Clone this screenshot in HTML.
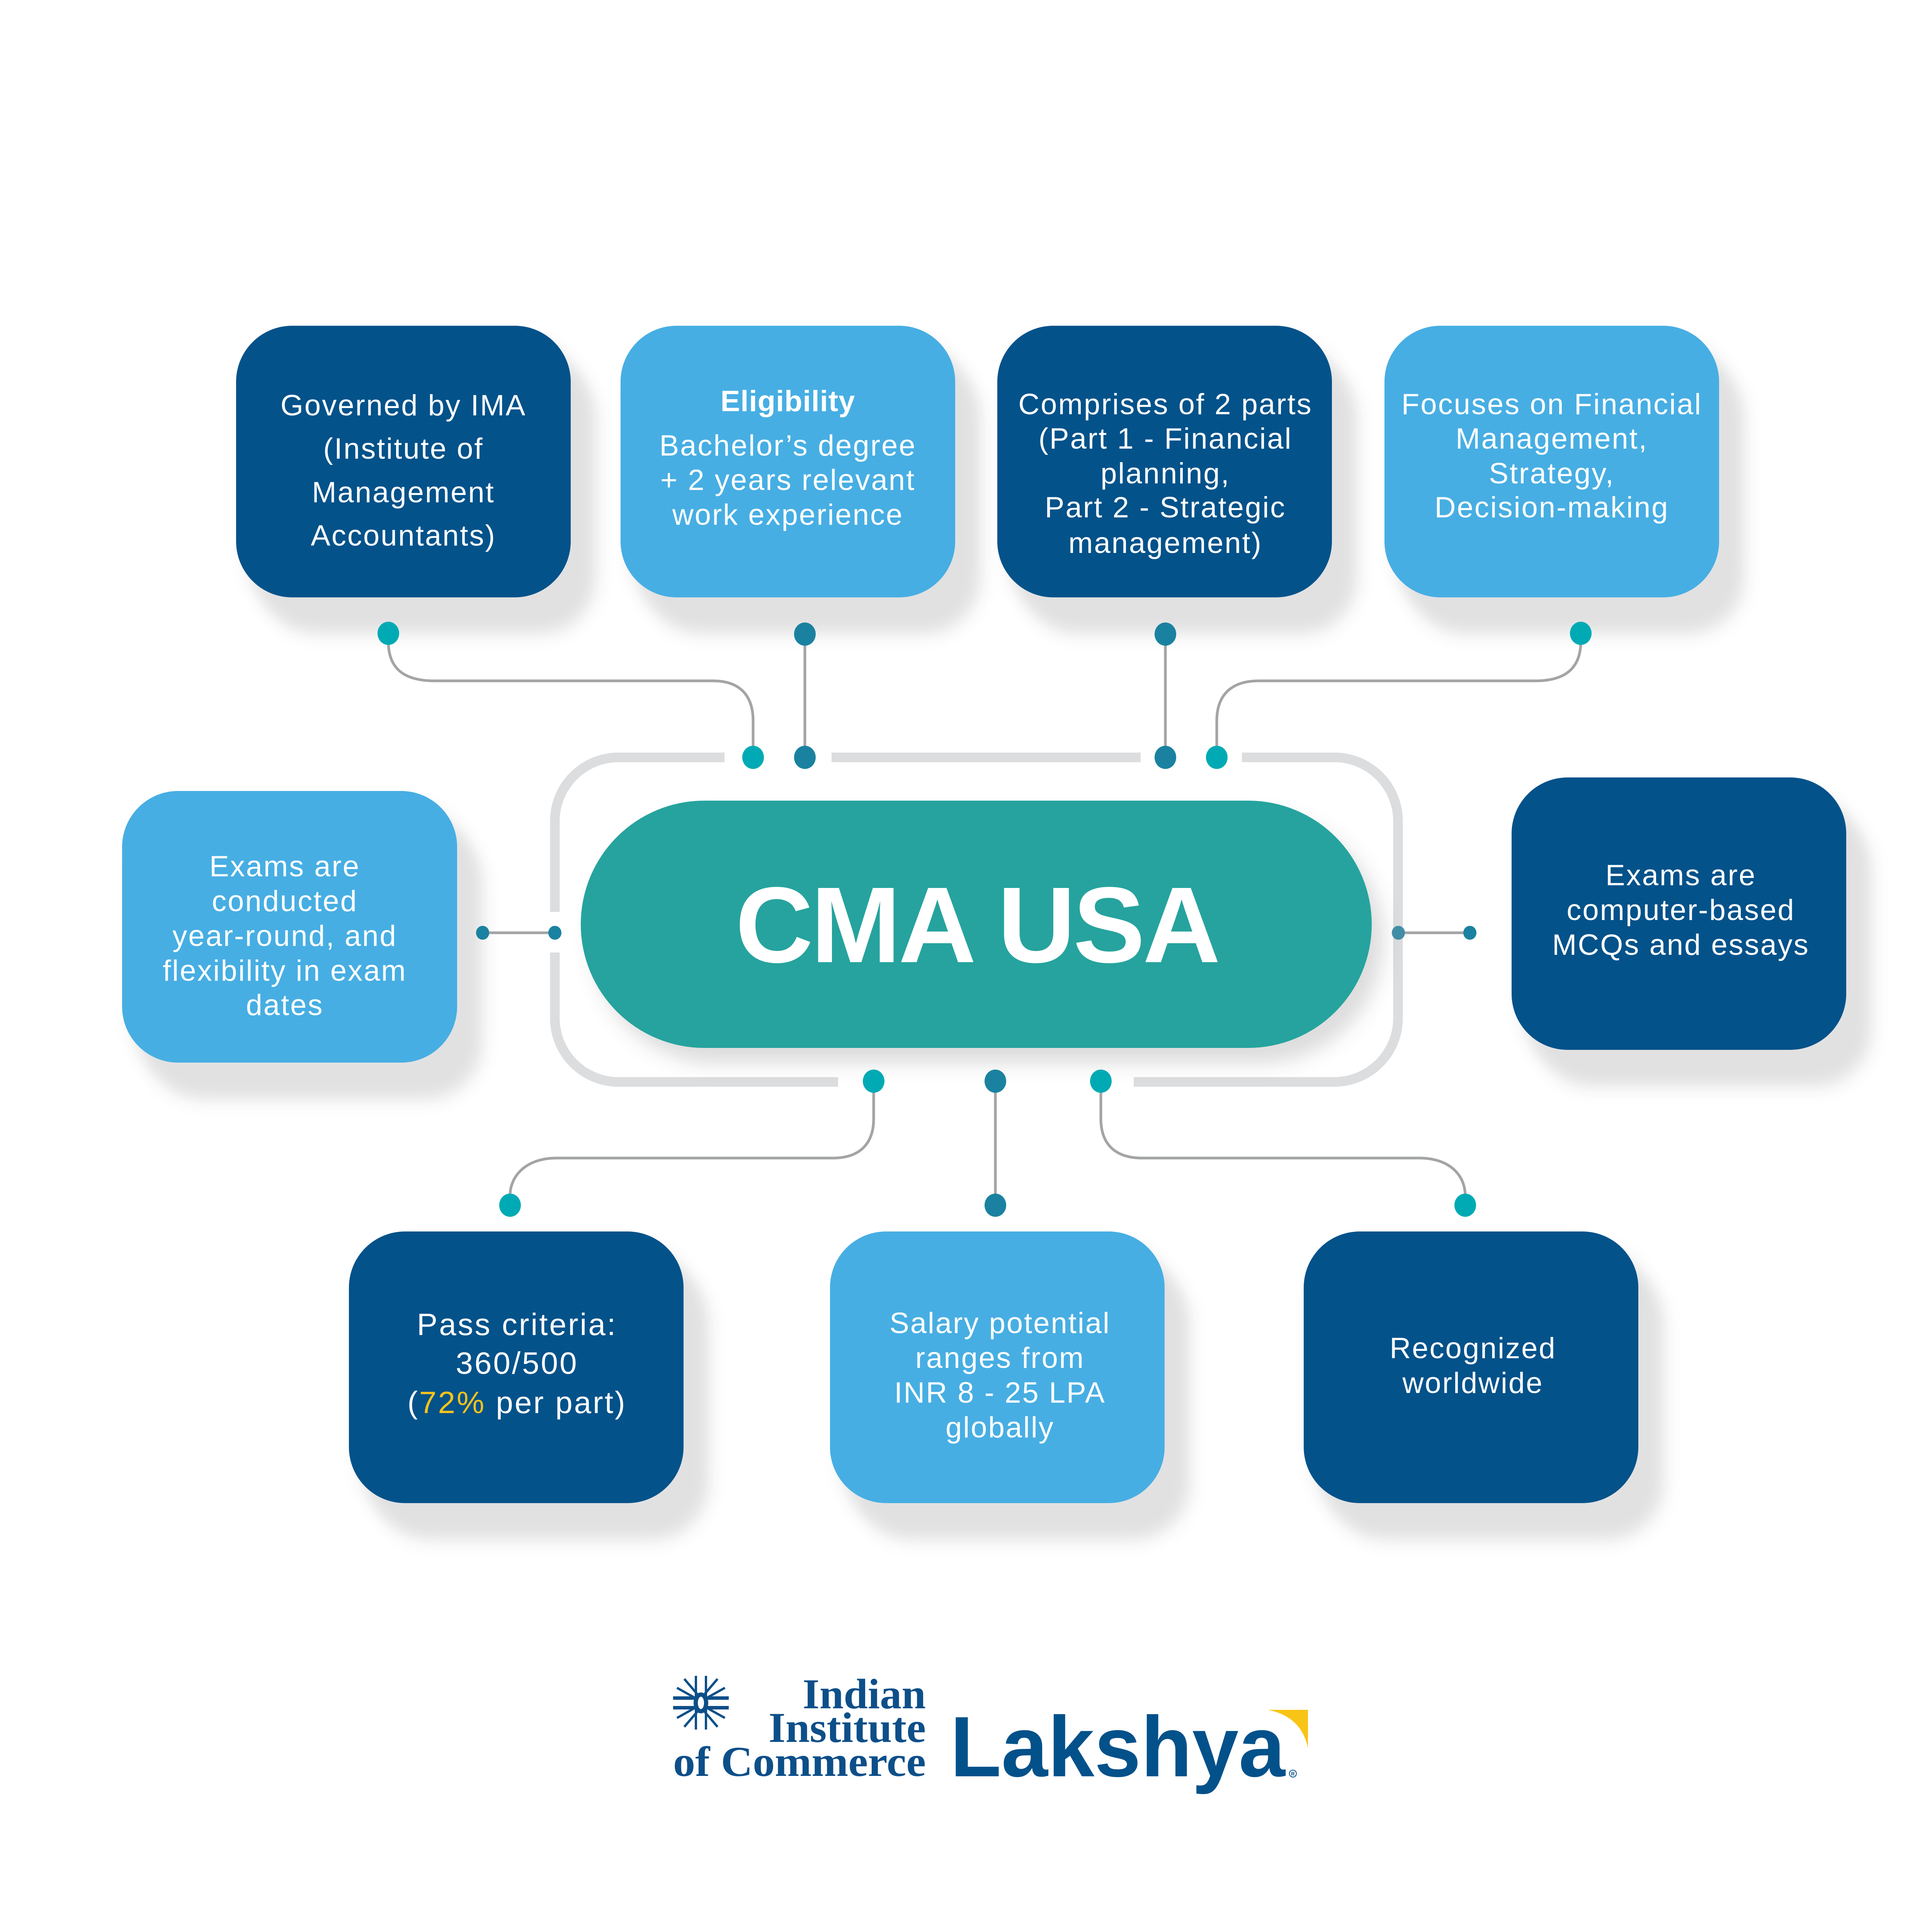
<!DOCTYPE html>
<html>
<head>
<meta charset="utf-8">
<style>
html,body{margin:0;padding:0;background:#ffffff;}
svg{display:block;}
.t{font-family:"Liberation Sans",Arial,sans-serif;font-size:76px;fill:#ffffff;text-anchor:middle;letter-spacing:3px;}
.tb{font-family:"Liberation Sans",Arial,sans-serif;font-size:80px;fill:#ffffff;text-anchor:middle;letter-spacing:4px;}
.serif{font-family:"Liberation Serif","DejaVu Serif",serif;font-weight:bold;font-size:110px;fill:#0d4f89;text-anchor:end;}
</style>
</head>
<body>
<svg width="5127" height="4987" viewBox="0 0 5127 4987" xmlns="http://www.w3.org/2000/svg">
<defs>
<filter id="sh" x="-10%" y="-10%" width="140%" height="150%" color-interpolation-filters="sRGB">
 <feGaussianBlur in="SourceAlpha" stdDeviation="22" result="b"/>
 <feOffset in="b" dx="30" dy="45" result="o1"/>
 <feOffset in="b" dx="65" dy="95" result="o2"/>
 <feMerge result="m"><feMergeNode in="o1"/><feMergeNode in="o2"/></feMerge>
 <feColorMatrix in="m" type="matrix" values="0 0 0 0 0.1  0 0 0 0 0.1  0 0 0 0 0.12  0 0 0 0.13 0" result="s"/>
 <feMerge><feMergeNode in="s"/><feMergeNode in="SourceGraphic"/></feMerge>
</filter>
<filter id="shp" x="-10%" y="-20%" width="130%" height="160%" color-interpolation-filters="sRGB">
 <feGaussianBlur in="SourceAlpha" stdDeviation="25" result="b"/>
 <feOffset in="b" dx="30" dy="40" result="o1"/>
 <feColorMatrix in="o1" type="matrix" values="0 0 0 0 0.1  0 0 0 0 0.1  0 0 0 0 0.12  0 0 0 0.15 0" result="s"/>
 <feMerge><feMergeNode in="s"/><feMergeNode in="SourceGraphic"/></feMerge>
</filter>
</defs>

<rect x="0" y="0" width="5127" height="4987" fill="#ffffff"/>

<!-- Frame -->
<g fill="none" stroke="#dcdddf" stroke-width="25">
 <path d="M1875,1960 H1601 A165,165 0 0 0 1436,2125 V2360"/>
 <path d="M1436,2465 V2635 A165,165 0 0 0 1601,2800 H2169"/>
 <path d="M2934,2800 H3453 A165,165 0 0 0 3618,2635 V2125 A165,165 0 0 0 3453,1960 H3214"/>
 <path d="M2152,1960 H2952"/>
</g>

<!-- Boxes -->
<g filter="url(#sh)">
 <rect x="611" y="843" width="866" height="703" rx="145" ry="145" fill="#03528a"/>
</g>
<g filter="url(#sh)">
 <rect x="1606" y="843" width="866" height="703" rx="145" ry="145" fill="#47aee3"/>
</g>
<g filter="url(#sh)">
 <rect x="2581" y="843" width="866" height="703" rx="145" ry="145" fill="#03528a"/>
</g>
<g filter="url(#sh)">
 <rect x="3583" y="843" width="866" height="703" rx="145" ry="145" fill="#47aee3"/>
</g>
<g filter="url(#sh)">
 <rect x="316" y="2047" width="867" height="703" rx="145" ry="145" fill="#47aee3"/>
</g>
<g filter="url(#sh)">
 <rect x="3912" y="2012" width="866" height="705" rx="145" ry="145" fill="#03528a"/>
</g>
<g filter="url(#sh)">
 <rect x="903" y="3187" width="866" height="703" rx="145" ry="145" fill="#03528a"/>
</g>
<g filter="url(#sh)">
 <rect x="2148" y="3187" width="866" height="703" rx="145" ry="145" fill="#47aee3"/>
</g>
<g filter="url(#sh)">
 <rect x="3374" y="3187" width="866" height="703" rx="145" ry="145" fill="#03528a"/>
</g>

<!-- Central pill -->
<g filter="url(#shp)">
 <rect x="1503" y="2072" width="2047" height="640" rx="320" ry="320" fill="#26a39e"/>
</g>
<text x="2528" y="2490" style="font-family:'Liberation Sans',Arial,sans-serif;font-weight:bold;font-size:279px;fill:#ffffff;text-anchor:middle;letter-spacing:-6px;">CMA USA</text>

<!-- Connectors -->
<g fill="none" stroke="#a3a4a6" stroke-width="7">
 <path d="M1005,1639 V1660 C1005,1730 1045,1762 1125,1762 H1845 C1915,1762 1949,1800 1949,1866 V1960"/>
 <path d="M2083,1641 V1960"/>
 <path d="M3016,1641 V1960"/>
 <path d="M3149,1960 V1866 C3149,1800 3185,1762 3258,1762 H3973 C4050,1762 4091,1730 4091,1660 V1639"/>
 <path d="M1249,2414 H1436"/>
 <path d="M3619,2414 H3804"/>
 <path d="M2261,2800 V2895 C2261,2960 2225,2997 2155,2997 H1440 C1365,2997 1320,3040 1320,3095 V3119"/>
 <path d="M2576,2800 V3119"/>
 <path d="M2849,2800 V2895 C2849,2960 2885,2997 2956,2997 H3673 C3750,2997 3792,3040 3792,3095 V3119"/>
</g>

<!-- Dots -->
<g>
 <ellipse cx="1005" cy="1639" rx="28" ry="30" fill="#00aab4"/>
 <ellipse cx="2083" cy="1641" rx="28" ry="30" fill="#1a82a0"/>
 <ellipse cx="3016" cy="1641" rx="28" ry="30" fill="#1a82a0"/>
 <ellipse cx="4091" cy="1639" rx="28" ry="30" fill="#00aab4"/>
 <ellipse cx="1949" cy="1960" rx="28" ry="30" fill="#00aab4"/>
 <ellipse cx="2083" cy="1960" rx="28" ry="30" fill="#1a82a0"/>
 <ellipse cx="3016" cy="1960" rx="28" ry="30" fill="#1a82a0"/>
 <ellipse cx="3149" cy="1960" rx="28" ry="30" fill="#00aab4"/>
 <ellipse cx="1249" cy="2414" rx="17" ry="18" fill="#1a82a0"/>
 <ellipse cx="1436" cy="2414" rx="17" ry="18" fill="#1a82a0"/>
 <ellipse cx="3619" cy="2414" rx="17" ry="18" fill="#428da6"/>
 <ellipse cx="3804" cy="2414" rx="17" ry="18" fill="#1a82a0"/>
 <ellipse cx="2261" cy="2798" rx="28" ry="30" fill="#00aab4"/>
 <ellipse cx="2576" cy="2798" rx="28" ry="30" fill="#1a82a0"/>
 <ellipse cx="2849" cy="2798" rx="28" ry="30" fill="#00aab4"/>
 <ellipse cx="1320" cy="3119" rx="28" ry="30" fill="#00aab4"/>
 <ellipse cx="2576" cy="3119" rx="28" ry="30" fill="#1a82a0"/>
 <ellipse cx="3792" cy="3119" rx="28" ry="30" fill="#00aab4"/>
</g>

<!-- Box texts -->
<text class="t" x="1044" y="1075">Governed by IMA</text>
<text class="t" x="1044" y="1187">(Institute of</text>
<text class="t" x="1044" y="1300">Management</text>
<text class="t" x="1044" y="1412">Accountants)</text>

<text class="t" x="2039" y="1064" style="font-weight:bold;letter-spacing:1px;">Eligibility</text>
<text class="t" x="2039" y="1179">Bachelor’s degree</text>
<text class="t" x="2039" y="1268">+ 2 years relevant</text>
<text class="t" x="2039" y="1358">work experience</text>

<text class="t" x="3016" y="1072">Comprises of 2 parts</text>
<text class="t" x="3016" y="1161">(Part 1 - Financial</text>
<text class="t" x="3016" y="1251">planning,</text>
<text class="t" x="3016" y="1339">Part 2 - Strategic</text>
<text class="t" x="3016" y="1431">management)</text>

<text class="t" x="4016" y="1072">Focuses on Financial</text>
<text class="t" x="4016" y="1161">Management,</text>
<text class="t" x="4016" y="1251">Strategy,</text>
<text class="t" x="4016" y="1339">Decision-making</text>

<text class="t" x="737" y="2268">Exams are</text>
<text class="t" x="737" y="2358">conducted</text>
<text class="t" x="737" y="2448">year-round, and</text>
<text class="t" x="737" y="2538">flexibility in exam</text>
<text class="t" x="737" y="2627">dates</text>

<text class="t" x="4350" y="2291">Exams are</text>
<text class="t" x="4350" y="2381">computer-based</text>
<text class="t" x="4350" y="2471">MCQs and essays</text>

<text class="tb" x="1338" y="3455">Pass criteria:</text>
<text class="tb" x="1338" y="3555">360/500</text>
<text class="tb" x="1338" y="3657">(<tspan fill="#f6c31b">72%</tspan> per part)</text>

<text class="t" x="2588" y="3450">Salary potential</text>
<text class="t" x="2588" y="3540">ranges from</text>
<text class="t" x="2588" y="3630">INR 8 - 25 LPA</text>
<text class="t" x="2588" y="3720">globally</text>

<text class="t" x="3812" y="3515">Recognized</text>
<text class="t" x="3812" y="3605">worldwide</text>

<!-- Logo: snowflake -->
<g fill="none" stroke="#0d4f89" stroke-width="6">
 <line x1="1801" y1="4337" x2="1801" y2="4476"/>
 <line x1="1827" y1="4337" x2="1827" y2="4476"/>
 <line x1="1771" y1="4345" x2="1806" y2="4386"/>
 <line x1="1752" y1="4368" x2="1795" y2="4392"/>
 <line x1="1857" y1="4345" x2="1822" y2="4386"/>
 <line x1="1876" y1="4368" x2="1833" y2="4392"/>
 <line x1="1771" y1="4469" x2="1806" y2="4428"/>
 <line x1="1752" y1="4446" x2="1795" y2="4422"/>
 <line x1="1857" y1="4469" x2="1822" y2="4428"/>
 <line x1="1876" y1="4446" x2="1833" y2="4422"/>
</g>
<rect x="1742" y="4390" width="144" height="9" fill="#0d4f89"/>
<rect x="1742" y="4415" width="144" height="9" fill="#0d4f89"/>
<ellipse cx="1814" cy="4407" rx="19" ry="27" fill="#0d4f89"/>
<ellipse cx="1814" cy="4407" rx="8" ry="16" fill="#ffffff"/>

<text class="serif" x="2396" y="4421" textLength="319" lengthAdjust="spacingAndGlyphs">Indian</text>
<text class="serif" x="2396" y="4508" textLength="407" lengthAdjust="spacingAndGlyphs">Institute</text>
<text class="serif" x="2396" y="4596" textLength="654" lengthAdjust="spacingAndGlyphs">of Commerce</text>

<text x="2459" y="4597" textLength="867" lengthAdjust="spacingAndGlyphs" style="font-family:'Liberation Sans',Arial,sans-serif;font-weight:bold;font-size:222px;fill:#03518a;">Lakshya</text>
<path d="M3281,4425 H3385 V4524 Q3368,4442 3281,4425 Z" fill="#f8c416"/>
<circle cx="3346" cy="4590" r="9" fill="none" stroke="#03518a" stroke-width="2"/>
<text x="3346" y="4595" style="font-family:'Liberation Sans',Arial,sans-serif;font-weight:bold;font-size:13px;fill:#03518a;text-anchor:middle;">R</text>
</svg>
</body>
</html>
